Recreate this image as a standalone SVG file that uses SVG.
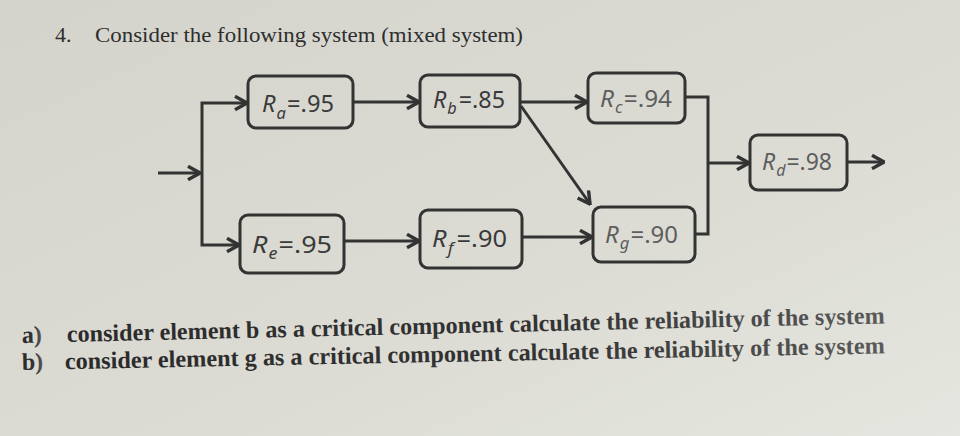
<svg xmlns="http://www.w3.org/2000/svg" width="960" height="436" viewBox="0 0 960 436">
  <defs>
    <linearGradient id="bg" x1="0" y1="0" x2="1" y2="1">
      <stop offset="0" stop-color="#d4d4cd"/>
      <stop offset="0.6" stop-color="#dcdcd5"/>
      <stop offset="1" stop-color="#e6e6e0"/>
    </linearGradient>
    <linearGradient id="txtfade" x1="0" y1="0" x2="1" y2="0">
      <stop offset="0" stop-color="#2a2a2a"/>
      <stop offset="0.6" stop-color="#333333"/>
      <stop offset="1" stop-color="#5a5a5a"/>
    </linearGradient>
    <marker id="arr" markerUnits="userSpaceOnUse" markerWidth="16" markerHeight="16" viewBox="0 0 12 12" refX="11" refY="6" orient="auto">
      <path d="M2,1 L11,6 L2,11" fill="none" stroke="#333" stroke-width="2.6" stroke-linejoin="miter"/>
    </marker>
    <style>
      .box { fill: none; stroke: #333; stroke-width: 3; }
      .conn { fill: none; stroke: #333; stroke-width: 3; }
      .lbl { font-family: "Noto Sans", "Open Sans", sans-serif; font-size: 23px; fill: #3a3a3a; }
      .lbl .it { font-style: italic; }
      .lbl .sub { font-style: italic; font-size: 16px; }
      .soft { fill: #5e5e5e; }
      .title { font-family: "Liberation Serif", "DejaVu Serif", serif; font-size: 22px; fill: #2e2e2e; }
      .q { font-family: "Liberation Serif", "DejaVu Serif", serif; font-size: 24px; font-weight: bold; fill: url(#txtfade); }
    </style>
  </defs>

  <rect x="0" y="0" width="960" height="436" fill="url(#bg)"/>

  <g id="title">
    <text class="title" x="55" y="42">4.</text>
    <text class="title" x="95" y="42" textLength="428" lengthAdjust="spacingAndGlyphs">Consider the following system (mixed system)</text>
  </g>

  <g id="connectors">
    <path class="conn" d="M158,173 H200" marker-end="url(#arr)"/>
    <path class="conn" d="M202,173 V103 H247" marker-end="url(#arr)"/>
    <path class="conn" d="M202,173 V245 H239" marker-end="url(#arr)"/>
    <path class="conn" d="M353,102 H419" marker-end="url(#arr)"/>
    <path class="conn" d="M520,102 H587" marker-end="url(#arr)"/>
    <path class="conn" d="M521,106 L590,204" marker-end="url(#arr)"/>
    <path class="conn" d="M344,241 H419" marker-end="url(#arr)"/>
    <path class="conn" d="M522,237 H592" marker-end="url(#arr)"/>
    <path class="conn" d="M685,97 H708 V234 H695"/>
    <path class="conn" d="M708,163 H749" marker-end="url(#arr)"/>
    <path class="conn" d="M847,162 H884" marker-end="url(#arr)"/>
  </g>

  <g id="node-a">
    <rect class="box" x="248" y="76" width="105" height="52" rx="8"/>
    <text class="lbl" x="262" y="112" textLength="72" lengthAdjust="spacingAndGlyphs"><tspan class="it">R</tspan><tspan class="sub" dx="1" dy="7">a</tspan><tspan dx="1" dy="-7">=.95</tspan></text>
  </g>
  <g id="node-b">
    <rect class="box" x="420" y="75" width="100" height="52" rx="8"/>
    <text class="lbl" x="433" y="108" textLength="72" lengthAdjust="spacingAndGlyphs"><tspan class="it">R</tspan><tspan class="sub" dx="1" dy="6">b</tspan><tspan dx="2" dy="-6">=.85</tspan></text>
  </g>
  <g id="node-c">
    <rect class="box" x="588" y="73" width="97" height="50" rx="8"/>
    <text class="lbl soft" x="600" y="107" textLength="72" lengthAdjust="spacingAndGlyphs"><tspan class="it">R</tspan><tspan class="sub" dx="1" dy="6">c</tspan><tspan dx="1" dy="-6">=.94</tspan></text>
  </g>
  <g id="node-e">
    <rect class="box" x="240" y="215" width="104" height="58" rx="8"/>
    <text class="lbl" x="252" y="253" style="font-size:24px" textLength="80" lengthAdjust="spacingAndGlyphs"><tspan class="it">R</tspan><tspan class="sub" dx="1" dy="6">e</tspan><tspan dx="1" dy="-6">=.95</tspan></text>
  </g>
  <g id="node-f">
    <rect class="box" x="420" y="210" width="102" height="58" rx="8"/>
    <text class="lbl" x="432" y="247" textLength="75" lengthAdjust="spacingAndGlyphs"><tspan class="it">R</tspan><tspan class="sub" dx="1" dy="7">f</tspan><tspan dx="3" dy="-7">=.90</tspan></text>
  </g>
  <g id="node-g">
    <rect class="box" x="593" y="207" width="102" height="55" rx="8"/>
    <text class="lbl soft" x="605" y="243" textLength="73" lengthAdjust="spacingAndGlyphs"><tspan class="it">R</tspan><tspan class="sub" dx="1" dy="6">g</tspan><tspan dx="1" dy="-6">=.90</tspan></text>
  </g>
  <g id="node-d">
    <rect class="box" x="750" y="135" width="97" height="55" rx="8"/>
    <text class="lbl soft" x="762" y="170" textLength="70" lengthAdjust="spacingAndGlyphs"><tspan class="it">R</tspan><tspan class="sub" dx="1" dy="6">d</tspan><tspan dx="1" dy="-6">=.98</tspan></text>
  </g>

  <g id="questions">
    <g transform="rotate(-1.3 22 343)">
      <text class="q" x="22" y="343">a)</text>
      <text class="q" x="67" y="343" textLength="818" lengthAdjust="spacingAndGlyphs">consider element b as a critical component calculate the reliability of the system</text>
    </g>
    <g transform="rotate(-1.1 22 370)">
      <text class="q" x="22" y="370">b)</text>
      <text class="q" x="65" y="370" textLength="820" lengthAdjust="spacingAndGlyphs">consider element g as a critical component calculate the reliability of the system</text>
    </g>
  </g>
</svg>
